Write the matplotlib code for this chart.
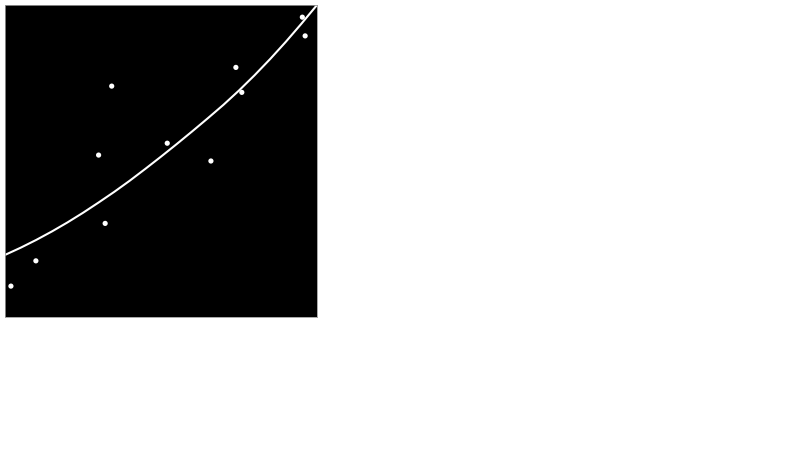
import matplotlib
matplotlib.use("Agg")
import matplotlib.pyplot as plt

# scatter points (axes run 0..100)
pts_x = [1.9, 9.9, 30.0, 32.1, 34.2, 52.0, 66.0, 74.0, 75.9, 95.3, 96.2]
pts_y = [9.9, 18.0, 51.9, 30.0, 74.0, 55.7, 50.0, 80.0, 72.0, 96.1, 90.1]

# trend curve, every 5 units
curve_x = [0, 5, 10, 15, 20, 25, 30, 35, 40, 45, 50,
           55, 60, 65, 70, 75, 80, 85, 90, 95, 100]
curve_y = [19.9, 22.2, 24.7, 27.4, 30.3, 33.4, 36.7, 40.1, 43.7, 47.5, 51.4,
           55.4, 59.5, 63.7, 68.0, 72.6, 77.5, 82.7, 88.2, 94.0, 100.0]

fig = plt.figure(figsize=(8, 4.5), dpi=100)
ax = fig.add_axes([5 / 800, 133 / 450, 312 / 800, 312 / 450])
ax.set_facecolor("black")

ax.plot(curve_x, curve_y, color="white", lw=1.5, solid_joinstyle="round")
ax.scatter(pts_x, pts_y, s=14, color="white", edgecolors="none", zorder=3)

ax.set_xlim(0, 100)
ax.set_ylim(0, 100)
ax.set_xticks([])
ax.set_yticks([])
for sp in ax.spines.values():
    sp.set_color("#999999")
    sp.set_linewidth(0.6)

fig.savefig("out.png", dpi=100)
